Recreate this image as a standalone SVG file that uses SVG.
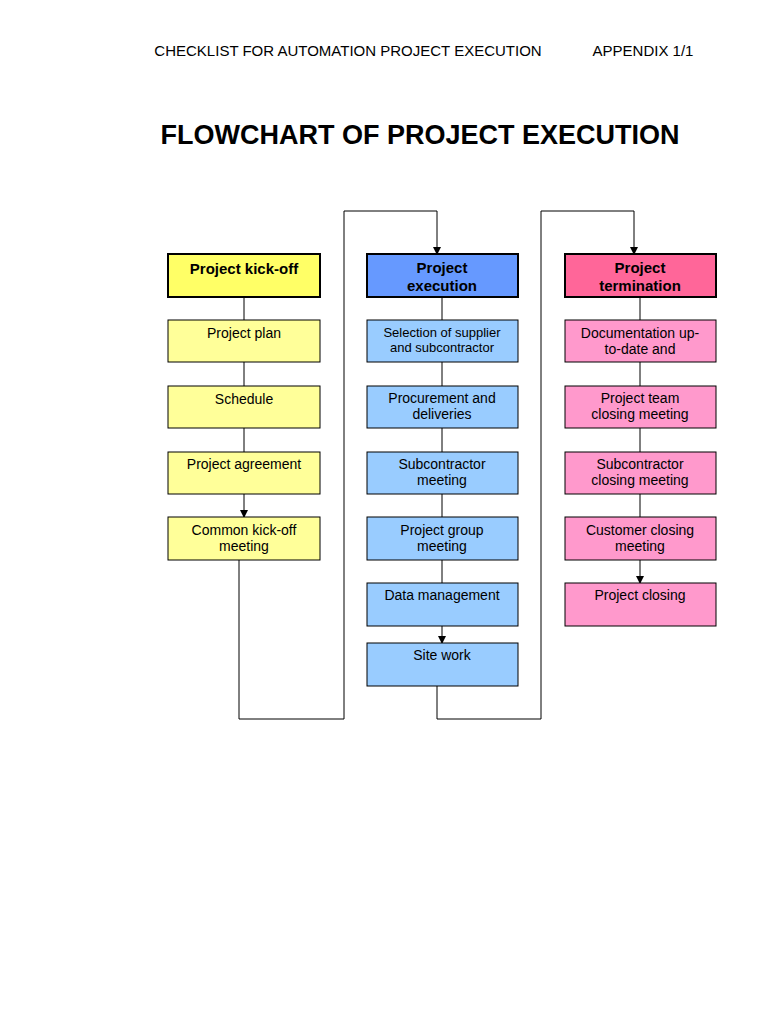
<svg xmlns="http://www.w3.org/2000/svg" width="768" height="1024" viewBox="0 0 768 1024">
<style>
text{font-family:"Liberation Sans",Arial,sans-serif;text-anchor:middle;fill:#000}
.t{font-size:14px}.h{font-size:15px;font-weight:bold}
.hb{stroke:#000;stroke-width:2}.b{stroke:#000;stroke-width:1}
.c{fill:none;stroke:#000;stroke-width:1}
</style>
<defs><marker id="a" markerWidth="8" markerHeight="8" refX="7" refY="4" orient="auto" markerUnits="userSpaceOnUse"><path d="M0,0L8,4L0,8z" fill="#000"/></marker></defs>
<rect width="768" height="1024" fill="#fff"/>
<text x="348" y="56" style="font-size:15px">CHECKLIST FOR AUTOMATION PROJECT EXECUTION</text>
<text x="643" y="56" style="font-size:15px">APPENDIX 1/1</text>
<text x="420" y="144" style="font-size:27px;font-weight:bold">FLOWCHART OF PROJECT EXECUTION</text>
<g id="connectors" class="c">
<path d="M244,297V320M244,362V386M244,428V452M244,494V517" marker-end="url(#a)"/>
<path d="M442,297V320M442,362V386M442,428V452M442,494V517M442,560V583M442,626V643" marker-end="url(#a)"/>
<path d="M640,297V320M640,362V386M640,428V452M640,494V517M640,560V583" marker-end="url(#a)"/>
<path d="M239,560V719H344V211H437V254" marker-end="url(#a)"/>
<path d="M437,686V719H541V211H634V254" marker-end="url(#a)"/>
</g>
<g id="kickoff"><rect x="168" y="254" width="152" height="43" fill="#FFFF66" class="hb"/><text x="244" y="274" class="h">Project kick-off</text></g>
<g id="plan"><rect x="168" y="320" width="152" height="42" fill="#FFFF99" class="b"/><text x="244" y="338" class="t">Project plan</text></g>
<g id="schedule"><rect x="168" y="386" width="152" height="42" fill="#FFFF99" class="b"/><text x="244" y="404" class="t">Schedule</text></g>
<g id="agreement"><rect x="168" y="452" width="152" height="42" fill="#FFFF99" class="b"/><text x="244" y="469" class="t">Project agreement</text></g>
<g id="commonkick"><rect x="168" y="517" width="152" height="43" fill="#FFFF99" class="b"/><text x="244" y="535" class="t">Common kick-off</text><text x="244" y="551" class="t">meeting</text></g>
<g id="execution"><rect x="367" y="254" width="151" height="43" fill="#6699FF" class="hb"/><text x="442" y="273" class="h">Project</text><text x="442" y="291" class="h">execution</text></g>
<g id="selection"><rect x="367" y="320" width="151" height="42" fill="#99CCFF" class="b"/><text x="442" y="337" style="font-size:13px">Selection of supplier</text><text x="442" y="352" style="font-size:13px">and subcontractor</text></g>
<g id="procurement"><rect x="367" y="386" width="151" height="42" fill="#99CCFF" class="b"/><text x="442" y="403" class="t">Procurement and</text><text x="442" y="419" class="t">deliveries</text></g>
<g id="submeeting"><rect x="367" y="452" width="151" height="42" fill="#99CCFF" class="b"/><text x="442" y="469" class="t">Subcontractor</text><text x="442" y="485" class="t">meeting</text></g>
<g id="groupmeeting"><rect x="367" y="517" width="151" height="43" fill="#99CCFF" class="b"/><text x="442" y="535" class="t">Project group</text><text x="442" y="551" class="t">meeting</text></g>
<g id="datamgmt"><rect x="367" y="583" width="151" height="43" fill="#99CCFF" class="b"/><text x="442" y="600" class="t">Data management</text></g>
<g id="sitework"><rect x="367" y="643" width="151" height="43" fill="#99CCFF" class="b"/><text x="442" y="660" class="t">Site work</text></g>
<g id="termination"><rect x="565" y="254" width="151" height="43" fill="#FF6699" class="hb"/><text x="640" y="273" class="h">Project</text><text x="640" y="291" class="h">termination</text></g>
<g id="documentation"><rect x="565" y="320" width="151" height="42" fill="#FF99CC" class="b"/><text x="640" y="338" class="t">Documentation up-</text><text x="640" y="354" class="t">to-date and</text></g>
<g id="teamclosing"><rect x="565" y="386" width="151" height="42" fill="#FF99CC" class="b"/><text x="640" y="403" class="t">Project team</text><text x="640" y="419" class="t">closing meeting</text></g>
<g id="subclosing"><rect x="565" y="452" width="151" height="42" fill="#FF99CC" class="b"/><text x="640" y="469" class="t">Subcontractor</text><text x="640" y="485" class="t">closing meeting</text></g>
<g id="custclosing"><rect x="565" y="517" width="151" height="43" fill="#FF99CC" class="b"/><text x="640" y="535" class="t">Customer closing</text><text x="640" y="551" class="t">meeting</text></g>
<g id="projclosing"><rect x="565" y="583" width="151" height="43" fill="#FF99CC" class="b"/><text x="640" y="600" class="t">Project closing</text></g>
</svg>
